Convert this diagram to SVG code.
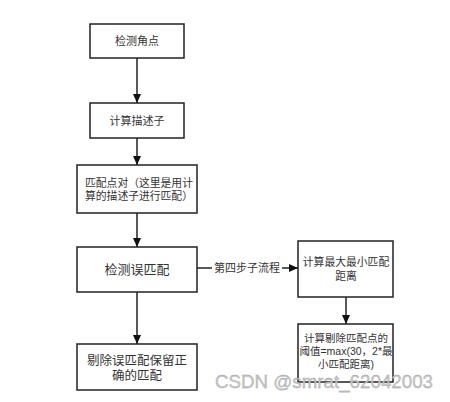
<svg xmlns="http://www.w3.org/2000/svg" width="450" height="402" viewBox="0 0 450 402">
<style>
.box{fill:#fff;stroke:#222;stroke-width:1.5}
.t{font-family:"Liberation Sans","Noto Sans CJK SC",sans-serif;fill:#333;text-anchor:middle;dominant-baseline:central}
.line{stroke:#222;stroke-width:1.5;fill:none}
</style>
<defs>
<marker id="ah" markerWidth="9" markerHeight="8" refX="9" refY="4" orient="auto" markerUnits="userSpaceOnUse">
<path d="M0,0 L9,4 L0,8 Z" fill="#111"/>
</marker>
</defs>
<rect width="450" height="402" fill="#fff"/>
<g id="connectors">
<line class="line" x1="137" y1="58" x2="137" y2="103" marker-end="url(#ah)"/>
<line class="line" x1="137" y1="138" x2="137" y2="165" marker-end="url(#ah)"/>
<line class="line" x1="137" y1="213" x2="137" y2="247" marker-end="url(#ah)"/>
<line class="line" x1="137" y1="292" x2="137" y2="344" marker-end="url(#ah)"/>
<line class="line" x1="346" y1="297" x2="346" y2="324" marker-end="url(#ah)"/>
<line class="line" x1="197" y1="268" x2="298" y2="268" marker-end="url(#ah)"/>
<rect x="212" y="260" width="70" height="16" fill="#fff"/>
<text class="t" x="247" y="268" font-size="11">第四步子流程</text>
</g>
<g id="n1">
<rect class="box" x="90" y="24" width="94" height="34"/>
<text class="t" x="137" y="41" font-size="11">检测角点</text>
</g>
<g id="n2">
<rect class="box" x="90" y="103" width="94" height="35"/>
<text class="t" x="137" y="121" font-size="11">计算描述子</text>
</g>
<g id="n3">
<rect class="box" x="77" y="165" width="120" height="48"/>
<text class="t" font-size="10.8" style="text-anchor:start"><tspan x="85" y="183">匹配点对（这里是用计</tspan><tspan x="85" y="196">算的描述子进行匹配）</tspan></text>
</g>
<g id="n4">
<rect class="box" x="77" y="247" width="120" height="45"/>
<text class="t" x="137" y="269" font-size="13">检测误匹配</text>
</g>
<g id="n5">
<rect class="box" x="298" y="241" width="95" height="56"/>
<text class="t" font-size="10.8"><tspan x="346" y="262">计算最大最小匹配</tspan><tspan x="346" y="276">距离</tspan></text>
</g>
<g id="n6">
<rect class="box" x="298" y="324" width="95" height="58"/>
<text class="t" font-size="10.5"><tspan x="346" y="338">计算剔除匹配点的</tspan><tspan x="346" y="351">阈值=max(30，2*最</tspan><tspan x="346" y="364">小匹配距离)</tspan></text>
</g>
<g id="n7">
<rect class="box" x="77" y="344" width="120" height="46"/>
<text class="t" font-size="12.5"><tspan x="137" y="361">剔除误匹配保留正</tspan><tspan x="137" y="376">确的匹配</tspan></text>
</g>
<text x="215" y="388" font-family="Liberation Sans, Arial, sans-serif" font-size="19" fill="#c8c8c8" stroke="#999" stroke-width="0.3" textLength="218" lengthAdjust="spacingAndGlyphs">CSDN @smrat_62042003</text>
</svg>
